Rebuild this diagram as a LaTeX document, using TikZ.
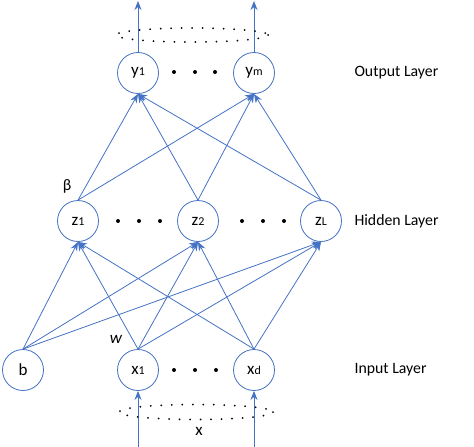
\documentclass[tikz,border=0pt]{standalone}
\usepackage{fontspec}
\setmainfont{Carlito}
\usetikzlibrary{arrows.meta}
\definecolor{nb}{HTML}{4472C4}
\begin{document}
\begin{tikzpicture}[x=1pt,y=-1pt,
  neuron/.style={circle,draw=nb,line width=0.8pt,fill=white,minimum size=41pt,inner sep=0pt,font=\fontsize{17}{17}\selectfont},
  conn/.style={draw=nb,line width=0.8pt,-{Stealth[length=9pt,width=7pt]}},
  lbl/.style={font=\fontsize{15.8}{16}\selectfont,anchor=west},
  dotell/.style={line width=2pt,line cap=round,dash pattern=on 0pt off 10.5pt},
  bigdot/.style={fill=black,circle,inner sep=0pt,minimum size=4pt}]
\useasboundingbox (0,0) rectangle (474,447);
% nodes
\node[neuron] (y1) at (138,73) {y{\fontsize{12}{12}\selectfont 1}};
\node[neuron] (ym) at (254,73) {y{\fontsize{12}{12}\selectfont m}};
\node[neuron] (z1) at (78,221) {z{\fontsize{12}{12}\selectfont 1}};
\node[neuron] (z2) at (198,221) {z{\fontsize{12}{12}\selectfont 2}};
\node[neuron] (zL) at (321,221) {z{\fontsize{12}{12}\selectfont L}};
\node[neuron] (b) at (23,370) {b};
\node[neuron] (x1) at (138,370) {x{\fontsize{12}{12}\selectfont 1}};
\node[neuron] (xd) at (254,370) {x{\fontsize{12}{12}\selectfont d}};
% input -> hidden
\foreach \s in {b,x1,xd}
  \foreach \t in {z1,z2,zL}
    \draw[conn] (\s.north) -- (\t.south);
% hidden -> output
\foreach \s in {z1,z2,zL}
  \foreach \t in {y1,ym}
    \draw[conn] (\s.north) -- (\t.south);
% output arrows
\coordinate (o1) at (138,1);
\coordinate (om) at (254,1);
\draw[conn] (y1.north) -- (o1);
\draw[conn] (ym.north) -- (om);
% input arrows
\coordinate (i1) at (138,447);
\coordinate (id) at (254,447);
\draw[conn] (i1) -- (x1.south);
\draw[conn] (id) -- (xd.south);
% dotted ellipses
\draw[dotell] (192,35) ellipse [x radius=76, y radius=7];
\draw[dotell] (196,412) ellipse [x radius=77, y radius=7.5];
% dots
\foreach \x in {174,195,215} \node[bigdot] (dy\x) at (\x,72) {};
\foreach \x in {118,139,160,242,263,284} \node[bigdot] (dz\x) at (\x,221) {};
\foreach \x in {174,195,216} \node[bigdot] (dx\x) at (\x,370) {};
% labels
\node[lbl] (lo) at (351,73) {Output Layer};
\node[lbl] (lh) at (351,221) {Hidden Layer};
\node[lbl] (li) at (351,370) {Input Layer};
\node[font=\fontsize{16}{16}\selectfont] (beta) at (67,186) {β};
\node[font=\fontsize{17}{17}\selectfont\itshape] (w) at (116,339) {w};
\node[font=\fontsize{17}{17}\selectfont] (xl) at (199,431) {x};
\end{tikzpicture}
\end{document}
